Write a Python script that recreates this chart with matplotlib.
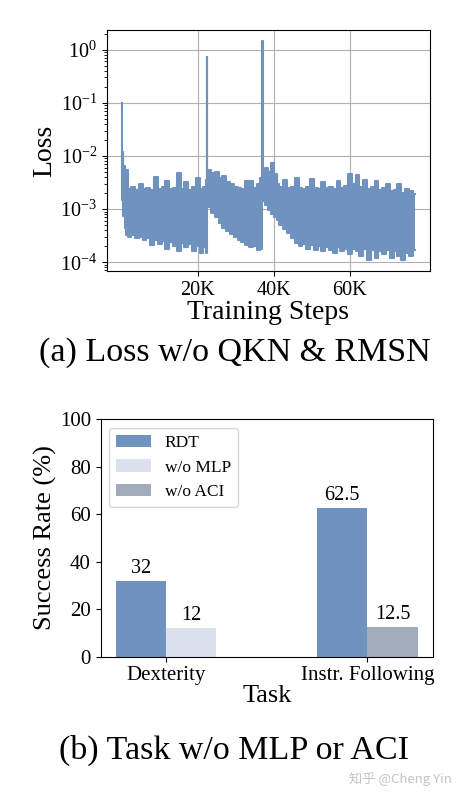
import numpy as np
import matplotlib
matplotlib.use("Agg")
import matplotlib.pyplot as plt
from matplotlib.ticker import FixedLocator, FixedFormatter

plt.rcParams['font.family'] = ['Liberation Serif', 'DejaVu Serif']
plt.rcParams['mathtext.fontset'] = 'stix'

# loss curve (steps in K)
loss_steps_k = [0.0, 0.3, 0.6, 1.0, 1.5, 2, 3, 4, 5, 6, 7, 8, 9, 10, 11, 12, 13, 14,
                15, 16, 17, 18, 19, 20, 21, 22, 22.4, 22.5, 22.6, 23, 24, 25, 26, 27,
                28, 29, 30, 31, 32, 33, 34, 35, 36, 36.9, 37.05, 37.2, 38, 39, 39.7,
                40.5, 41, 42, 43, 44, 45, 46, 47, 48, 49, 50, 51, 52, 53, 54, 55, 56,
                57, 58, 59, 60, 61, 62, 63, 64, 65, 66, 67, 68, 69, 70, 71, 72, 73, 74,
                75, 76, 77.2]
loss_upper = [0.098, 0.012, 6.5e-3, 4.0e-3, 5.5e-3, 2.4e-3, 2.6e-3, 2.3e-3, 3.0e-3,
              2.4e-3, 2.5e-3, 2.3e-3, 4.0e-3, 2.4e-3, 2.6e-3, 3.4e-3, 2.4e-3, 2.5e-3,
              4.8e-3, 2.4e-3, 3.2e-3, 2.3e-3, 2.6e-3, 3.9e-3, 2.4e-3, 2.6e-3, 3.5e-3,
              0.72, 4.5e-3, 5.5e-3, 4.8e-3, 5.0e-3, 3.8e-3, 4.2e-3, 3.2e-3, 3.0e-3,
              2.6e-3, 2.5e-3, 2.4e-3, 3.3e-3, 3.4e-3, 2.5e-3, 3.0e-3, 3.8e-3, 1.45,
              5.5e-3, 6.0e-3, 5.0e-3, 7.3e-3, 4.5e-3, 3.0e-3, 2.6e-3, 3.5e-3, 2.5e-3,
              2.6e-3, 3.8e-3, 2.5e-3, 2.4e-3, 2.6e-3, 3.6e-3, 2.5e-3, 2.4e-3, 3.2e-3,
              2.5e-3, 2.6e-3, 2.4e-3, 3.4e-3, 2.5e-3, 2.7e-3, 4.6e-3, 3.0e-3, 4.4e-3,
              2.6e-3, 3.5e-3, 2.4e-3, 2.6e-3, 3.4e-3, 2.3e-3, 2.5e-3, 3.0e-3, 2.2e-3,
              2.3e-3, 2.9e-3, 2.0e-3, 2.4e-3, 2.2e-3, 1.9e-3]
loss_lower = [0.012, 1.5e-3, 7.5e-4, 4.5e-4, 3.3e-4, 3.0e-4, 3.2e-4, 2.8e-4, 3.0e-4,
              2.6e-4, 2.8e-4, 2.1e-4, 2.6e-4, 2.2e-4, 2.5e-4, 1.8e-4, 2.4e-4, 2.0e-4,
              1.6e-4, 2.3e-4, 1.9e-4, 2.2e-4, 1.6e-4, 2.0e-4, 1.5e-4, 1.9e-4, 1.5e-4,
              1.3e-3, 1.2e-3, 1.1e-3, 8.5e-4, 7.0e-4, 5.5e-4, 4.5e-4, 3.8e-4, 3.4e-4,
              3.0e-4, 2.6e-4, 2.4e-4, 2.1e-4, 1.9e-4, 2.0e-4, 1.7e-4, 1.8e-4, 1.4e-3,
              1.4e-3, 1.2e-3, 9.5e-4, 8.0e-4, 7.0e-4, 6.2e-4, 5.0e-4, 4.2e-4, 3.5e-4,
              2.8e-4, 2.3e-4, 2.0e-4, 2.2e-4, 1.8e-4, 2.1e-4, 1.7e-4, 2.0e-4, 1.6e-4,
              1.9e-4, 1.7e-4, 1.5e-4, 1.9e-4, 1.6e-4, 1.8e-4, 1.4e-4, 1.8e-4, 1.6e-4,
              1.3e-4, 1.8e-4, 1.1e-4, 1.7e-4, 1.2e-4, 1.6e-4, 1.4e-4, 1.7e-4, 1.2e-4,
              1.6e-4, 1.3e-4, 1.1e-4, 1.5e-4, 1.3e-4, 1.7e-4]
step_ticks = [20000, 40000, 60000]
step_tick_labels = ['20K', '40K', '60K']

# ablation bars
tasks = ['Dexterity', 'Instr. Following']
rdt_rate = [32, 62.5]
no_mlp_rate = [12]      # only measured on Dexterity
no_aci_rate = [12.5]    # only measured on Instr. Following

line_color = '#7092be'
light_color = '#dbe2ee'
grey_color = '#a2abb9'

fig = plt.figure(figsize=(4.64, 7.98), dpi=100)

# ---- (a) loss ----
ax1 = fig.add_axes([0.2306, 0.6604, 0.696, 0.302])
steps = np.array(loss_steps_k) * 1000
ax1.fill_between(steps, loss_lower, loss_upper, color=line_color, lw=0, step='mid')
ax1.plot(steps, loss_upper, color=line_color, lw=1.5, drawstyle='steps-mid')
ax1.plot(steps, loss_lower, color=line_color, lw=1.5, drawstyle='steps-mid')
ax1.set_yscale('log')
ax1.xaxis.set_major_locator(FixedLocator(step_ticks))
ax1.xaxis.set_major_formatter(FixedFormatter(step_tick_labels))
ax1.grid(True, which='major', color='#b0b0b0', lw=0.8)
ax1.set_axisbelow(True)
ax1.tick_params(labelsize=14.5)
ax1.set_xlabel('Training Steps', fontsize=20, labelpad=0)
ax1.set_ylabel('Loss', fontsize=20, labelpad=2)
fig.text(0.505, 1 - 361 / 798, '(a) Loss w/o QKN & RMSN', fontsize=24.5,
         ha='center', va='baseline')

# ---- (b) ablation ----
ax2 = fig.add_axes([0.217, 0.1771, 0.716, 0.2978])
x = np.arange(len(tasks))
w = 0.25
b1 = ax2.bar(x - w / 2, rdt_rate, w, color=line_color, label='RDT')
b2 = ax2.bar(x[:1] + w / 2, no_mlp_rate, w, color=light_color, label='w/o MLP')
b3 = ax2.bar(x[1:] + w / 2, no_aci_rate, w, color=grey_color, label='w/o ACI')
for bars in (b1, b2, b3):
    ax2.bar_label(bars, labels=[f'{v:g}' for v in bars.datavalues],
                  fontsize=14.5, padding=2)
ax2.set_ylim(0, 100)
ax2.set_xticks(x)
ax2.set_xticklabels(tasks)
ax2.tick_params(labelsize=15)
ax2.set_xlabel('Task', fontsize=19, labelpad=0)
ax2.set_ylabel('Success Rate (%)', fontsize=19, labelpad=2)
ax2.legend(loc='upper left', fontsize=12.5)
fig.text(0.505, 1 - 759 / 798, '(b) Task w/o MLP or ACI', fontsize=24.5,
         ha='center', va='baseline')

fig.text(452 / 464, 1 - 779 / 798, '知乎 @Cheng Yin', fontsize=9.5, color='#c4c4c4',
         ha='right', va='center', family=['Noto Sans CJK SC', 'DejaVu Sans'])

fig.savefig('out.png', dpi=100)
